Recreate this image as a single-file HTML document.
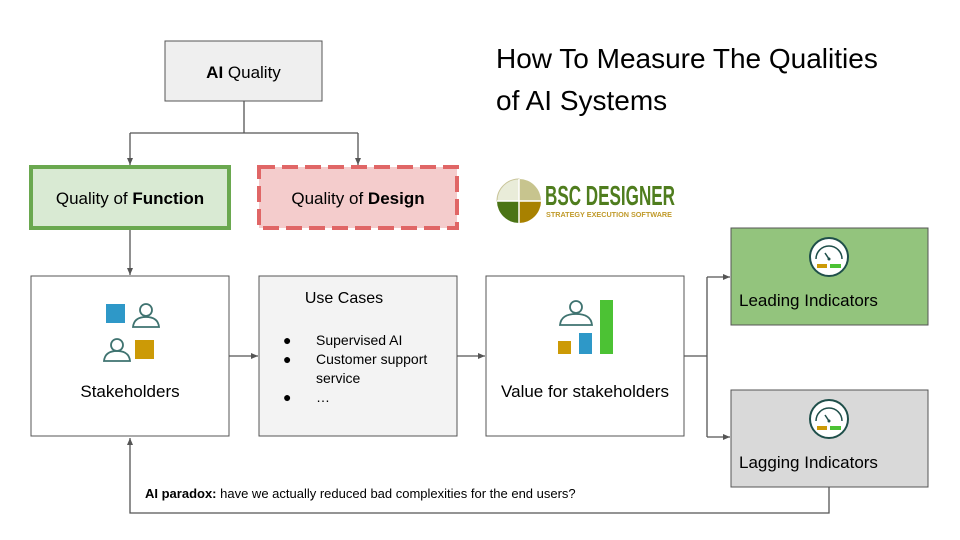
<!DOCTYPE html>
<html><head><meta charset="utf-8"><style>
html,body{margin:0;padding:0;background:#fff;}
svg{display:block;font-family:"Liberation Sans",Arial,sans-serif;}
</style></head><body>
<svg width="960" height="540" viewBox="0 0 960 540" xmlns="http://www.w3.org/2000/svg">
<defs>
<marker id="a" markerWidth="8" markerHeight="8" refX="7" refY="4" orient="auto" markerUnits="userSpaceOnUse">
<path d="M0,1 L7,4 L0,7 z" fill="#555"/></marker>
</defs>
<g stroke="#555" stroke-width="1.3" fill="none">
<path d="M244,101 V133 M130,133 H358"/>
<path d="M130,133 V165" marker-end="url(#a)"/>
<path d="M358,133 V165" marker-end="url(#a)"/>
<path d="M130,229 V275" marker-end="url(#a)"/>
<path d="M229,356 H258" marker-end="url(#a)"/>
<path d="M457,356 H485" marker-end="url(#a)"/>
<path d="M684,356 H707 M707,277 V437"/>
<path d="M707,277 H730" marker-end="url(#a)"/>
<path d="M707,437 H730" marker-end="url(#a)"/>
<path d="M829,487 V513 H130 V438" marker-end="url(#a)"/>
</g>
<rect x="165" y="41" width="157" height="60" fill="#efefef" stroke="#555" stroke-width="1"/>
<text x="243.5" y="78" font-size="17" text-anchor="middle" fill="#000"><tspan font-weight="bold">AI</tspan> Quality</text>
<rect x="31" y="167" width="198" height="61" fill="#d9ead3" stroke="#6aa84f" stroke-width="4"/>
<text x="130" y="204" font-size="17" text-anchor="middle">Quality of <tspan font-weight="bold">Function</tspan></text>
<rect x="259" y="167" width="198" height="61" fill="#f4cccc" stroke="#e06666" stroke-width="4" stroke-dasharray="16,7"/>
<text x="358" y="204" font-size="17" text-anchor="middle">Quality of <tspan font-weight="bold">Design</tspan></text>
<text x="496" y="68" font-size="28" fill="#000">How To Measure The Qualities</text>
<text x="496" y="110" font-size="28" fill="#000">of AI Systems</text>
<g>
<path d="M519,201 L519,179 A22,22 0 0 0 497,201 Z" fill="#e9ecd9" stroke="#c9c59a"/>
<path d="M519,201 L541,201 A22,22 0 0 0 519,179 Z" fill="#c7c48e"/>
<path d="M519,201 L497,201 A22,22 0 0 0 519,223 Z" fill="#4b7416"/>
<path d="M519,201 L519,223 A22,22 0 0 0 541,201 Z" fill="#a88100"/>
<path d="M497,201 H541 M519,179 V223" stroke="#fff" stroke-width="1.5"/>
<text x="545" y="205" font-size="28" font-weight="bold" fill="#4f7d1e" textLength="130" lengthAdjust="spacingAndGlyphs">BSC DESIGNER</text>
<text x="546" y="217" font-size="7" font-weight="bold" fill="#c09a2a" textLength="126" lengthAdjust="spacingAndGlyphs">STRATEGY EXECUTION SOFTWARE</text>
</g>
<rect x="31" y="276" width="198" height="160" fill="#fff" stroke="#555" stroke-width="1"/>
<rect x="259" y="276" width="198" height="160" fill="#f3f3f3" stroke="#555" stroke-width="1"/>
<rect x="486" y="276" width="198" height="160" fill="#fff" stroke="#555" stroke-width="1"/>
<rect x="106" y="304" width="19" height="19" fill="#2e98c8"/>
<rect x="135" y="340" width="19" height="19" fill="#cc9a06"/>
<g stroke="#3f7370" stroke-width="1.8" fill="none">
<circle cx="146" cy="310" r="6"/><path d="M133,327 Q134,317 146,317 Q158,317 159,327 Z"/>
<circle cx="117" cy="345" r="6"/><path d="M104,361 Q105,351 117,351 Q129,351 130,361 Z"/>
<circle cx="576" cy="307" r="6"/><path d="M560,325 Q561,314 576,314 Q591,314 592,325 Z"/>
</g>
<text x="130" y="397" font-size="17" text-anchor="middle">Stakeholders</text>
<text x="344" y="303" font-size="16" text-anchor="middle">Use Cases</text>
<g font-size="14">
<text x="283" y="345">●</text><text x="316" y="345">Supervised AI</text>
<text x="283" y="364">●</text><text x="316" y="364">Customer support</text>
<text x="316" y="383">service</text>
<text x="283" y="402">●</text><text x="316" y="402">…</text>
</g>
<rect x="558" y="341" width="13" height="13" fill="#cc9a06"/>
<rect x="579" y="333" width="13" height="21" fill="#2e98c8"/>
<rect x="600" y="300" width="13" height="54" fill="#4cc234"/>
<text x="585" y="397" font-size="17" text-anchor="middle">Value for stakeholders</text>
<rect x="731" y="228" width="197" height="97" fill="#93c47d" stroke="#555" stroke-width="1"/>
<rect x="731" y="390" width="197" height="97" fill="#d9d9d9" stroke="#555" stroke-width="1"/>
<g>
<circle cx="829" cy="257" r="19" fill="#fff" stroke="#1f4f4a" stroke-width="2"/>
<path d="M816,259 A13,13 0 0 1 842,259" fill="none" stroke="#1f4f4a" stroke-width="1.5"/>
<path d="M829,259 L825,253" stroke="#1f4f4a" stroke-width="1.5"/><circle cx="829" cy="259" r="1.5" fill="#1f4f4a"/>
<rect x="817" y="264" width="10" height="4" fill="#cc9a06"/><rect x="830" y="264" width="11" height="4" fill="#4cc234"/>
<circle cx="829" cy="419" r="19" fill="#fff" stroke="#1f4f4a" stroke-width="2"/>
<path d="M816,421 A13,13 0 0 1 842,421" fill="none" stroke="#1f4f4a" stroke-width="1.5"/>
<path d="M829,421 L825,415" stroke="#1f4f4a" stroke-width="1.5"/><circle cx="829" cy="421" r="1.5" fill="#1f4f4a"/>
<rect x="817" y="426" width="10" height="4" fill="#cc9a06"/><rect x="830" y="426" width="11" height="4" fill="#4cc234"/>
</g>
<text x="739" y="306" font-size="17">Leading Indicators</text>
<text x="739" y="468" font-size="17">Lagging Indicators</text>
<text x="145" y="498" font-size="13"><tspan font-weight="bold">AI paradox:</tspan> have we actually reduced bad complexities for the end users?</text>
</svg>
</body></html>
